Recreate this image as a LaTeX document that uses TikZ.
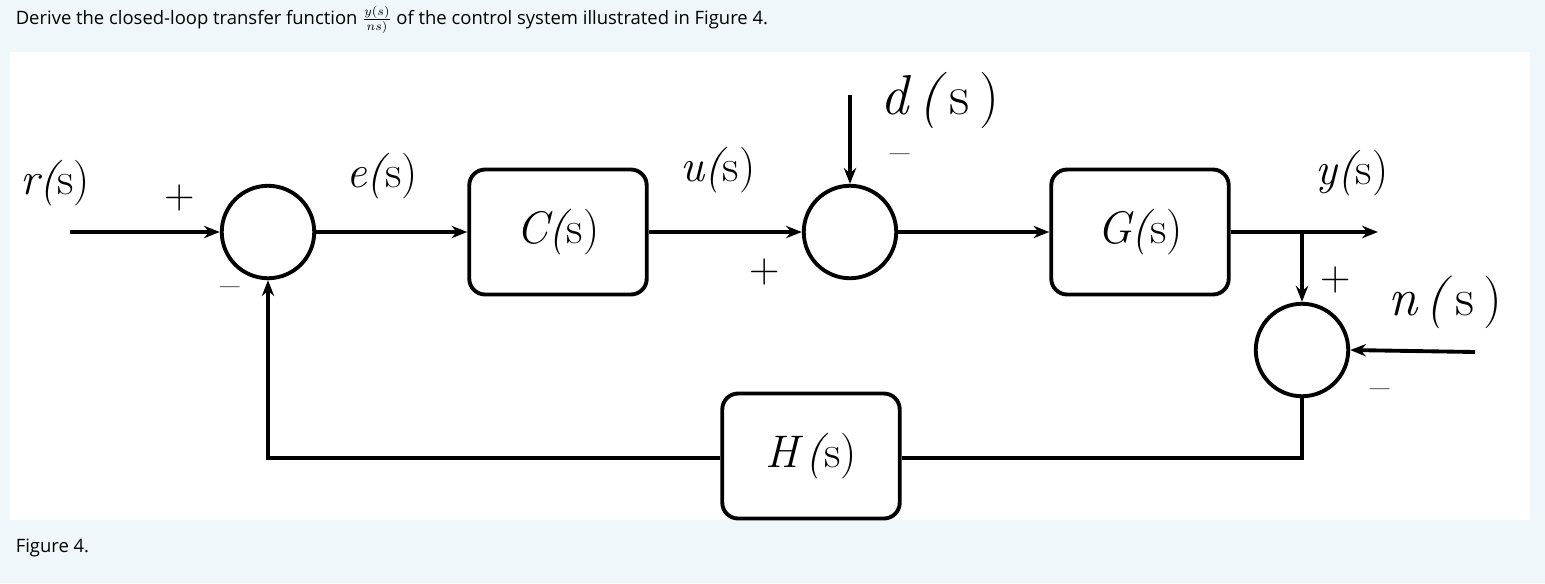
\documentclass[tikz,border=0pt]{standalone}
\usepackage{fontspec}
\newfontfamily\uifont{Open Sans}
\usetikzlibrary{positioning, arrows.meta}
\definecolor{pagebg}{RGB}{240,247,250}
\begin{document}
\begin{tikzpicture}[x=0.02cm, y=-0.02cm, line width=2.2pt, >={Stealth[length=9pt,width=7pt]},
                    sumnode/.style = {draw, circle, minimum size=1.85cm, inner sep=0pt},
                    blockbox/.style = {draw, rounded corners=9pt, minimum width=3.55cm, minimum height=2.5cm,
                                       font=\rmfamily\fontsize{26}{30}\selectfont\itshape},
                    lbl/.style = {font=\rmfamily\fontsize{26}{30}\selectfont\itshape},
                    sgn/.style = {font=\rmfamily\fontsize{24}{28}\selectfont}]
    % background and panel
    \fill[pagebg] (0,0) rectangle (1545,583);
    \fill[white] (10,52) rectangle (1530,520);
    \node[anchor=west, font=\uifont\fontsize{10.5}{12}\selectfont] (title) at (8,20)
        {Derive the closed-loop transfer function $\frac{y(s)}{ns)}$ of the control system illustrated in Figure 4.};
    \node[anchor=west, font=\uifont\fontsize{10.5}{12}\selectfont] (cap) at (8,548) {Figure 4.};

    % blocks
    \node[sumnode] (s1) at (268,232) {};
    \node[blockbox] (c) at (558,232) {C(\upshape s)};
    \node[sumnode] (s2) at (850,232) {};
    \node[blockbox] (g) at (1140,232) {G(\upshape s)};
    \node[sumnode] (s3) at (1302,350) {};
    \node[blockbox] (h) at (811,456) {H\,(\upshape s)};

    \coordinate (rin) at (70,232);
    \coordinate (yout) at (1378,232);
    \coordinate (br) at (1302,232);
    \coordinate (nin) at (1475,352);
    \coordinate (din) at (850,95);
    \coordinate (hr) at (1302,458);
    \coordinate (hl) at (268,458);

    % connectors
    \draw[->] (rin) -- (s1.west);
    \draw[->] (s1) -- (c);
    \draw[->] (c) -- (s2);
    \draw[->] (s2) -- (g);
    \draw[->] (g.east) -- (yout);
    \draw[->] (br) -- (s3.north);
    \draw[->] (nin) -- (s3.east);
    \draw[->] (din) -- (s2.north);
    \draw (s3.south) -- (hr) -- (h.east |- hr);
    \draw[->] (h.west |- hl) -- (hl) -- (s1.south);

    % labels
    \node[lbl] (rl) at (55,183) {r(\upshape s)};
    \node[sgn] (p1) at (180,198) {+};
    \node[sgn] (m1) at (230,293) {\textendash};
    \node[lbl] (el) at (382,176) {e(\upshape s)};
    \node[lbl] (ul) at (718,170) {u(\upshape s)};
    \node[sgn] (p2) at (765,272) {+};
    \node[lbl, font=\rmfamily\fontsize{32}{36}\selectfont\itshape] (dl) at (940,100) {d\,(\,\upshape s\,)};
    \node[sgn] (m2) at (900,160) {\textendash};
    \node[lbl] (yl) at (1352,173) {y(\upshape s)};
    \node[sgn] (p3) at (1336,280) {+};
    \node[lbl, font=\rmfamily\fontsize{30}{34}\selectfont\itshape] (nl) at (1445,302) {n\,(\,\upshape s\,)};
    \node[sgn] (m3) at (1380,395) {\textendash};
\end{tikzpicture}
\end{document}
